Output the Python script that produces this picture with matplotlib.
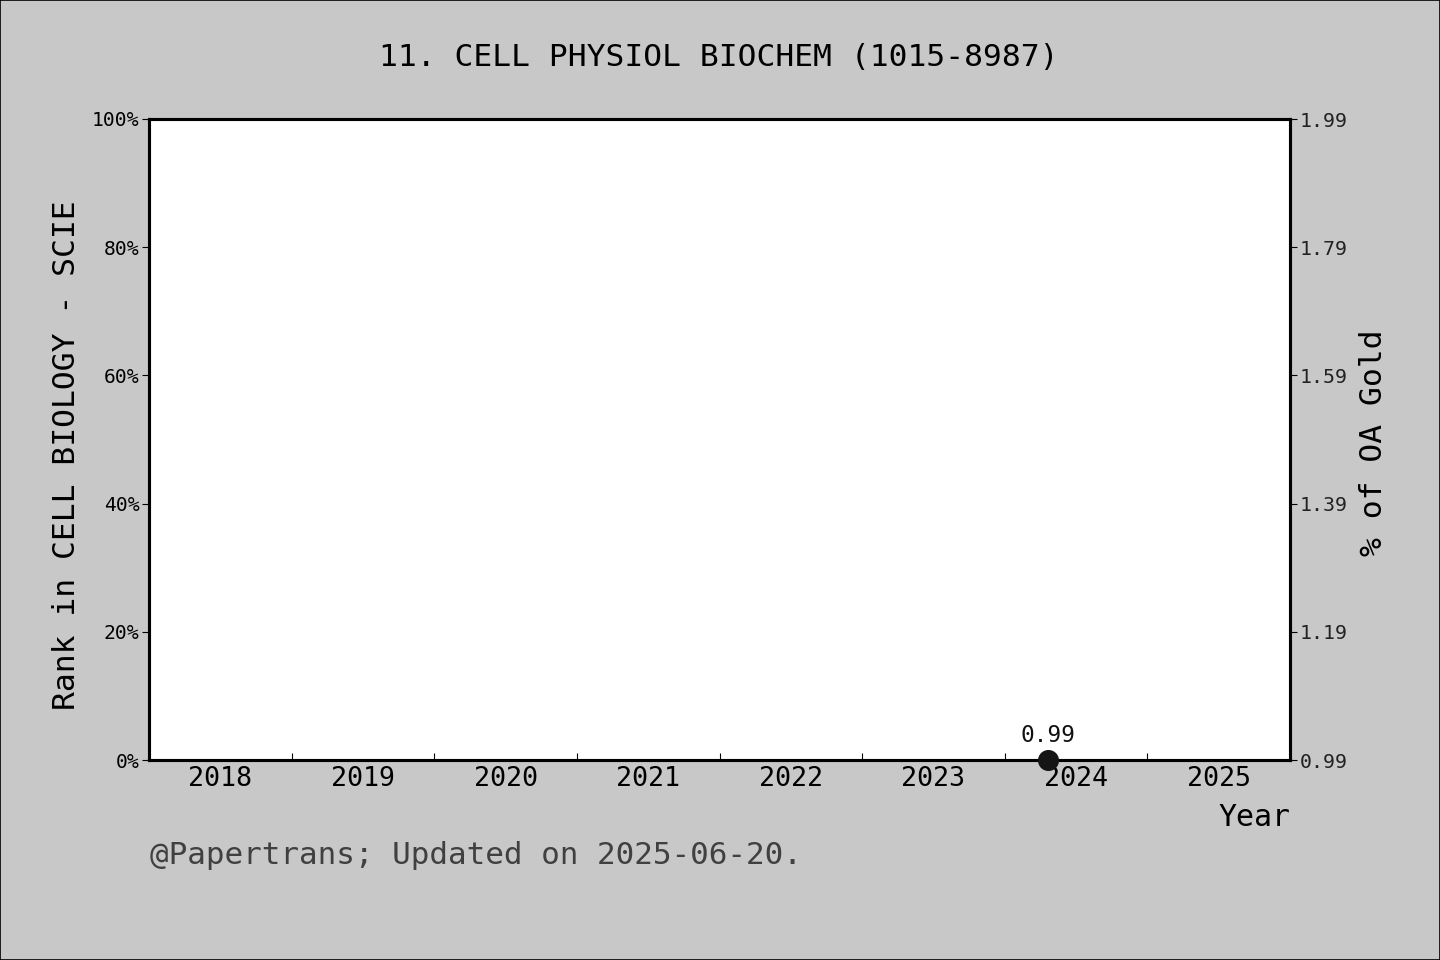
import matplotlib
matplotlib.use("Agg")
import matplotlib.pyplot as plt
from matplotlib import font_manager as fm
from matplotlib.ticker import FixedLocator, FuncFormatter
from matplotlib.patches import Rectangle

# ---- data ----
years = ["2018", "2019", "2020", "2021", "2022", "2023", "2024", "2025"]
oa_years = ["2024"]
oa_values = [0.99]
rank_ticks = [0, 20, 40, 60, 80, 100]
oa_ticks = [0.99, 1.19, 1.39, 1.59, 1.79, 1.99]
title = "11. CELL PHYSIOL BIOCHEM (1015-8987)"
ylabel_left = "Rank in CELL BIOLOGY - SCIE"
ylabel_right = "% of OA Gold"
footer = "@Papertrans; Updated on 2025-06-20."

# ---- font ----
names = {f.name for f in fm.fontManager.ttflist}
if "Noto Sans Mono CJK SC" in names:
    fam = ["Noto Sans Mono CJK SC", "DejaVu Sans Mono"]
    k = 0.602 / 0.5
else:
    fam = ["DejaVu Sans Mono"]
    k = 1.0
plt.rcParams["font.family"] = fam

def fs(px_per_char):
    # DejaVu Sans Mono advance = 0.602 em; convert to pt at dpi 100
    return px_per_char / 0.602 * 0.72 * k

bg = "#c8c8c8"
fig = plt.figure(figsize=(14.4, 9.6), dpi=100, facecolor=bg)
fig.patches.append(Rectangle((0, 0), 1, 1, transform=fig.transFigure,
                             fill=False, edgecolor="black", linewidth=1.2))

L, R, B, T = 149 / 1440, 1290 / 1440, 1 - 760 / 960, 1 - 119 / 960
ax = fig.add_axes([L, B, R - L, T - B])
ax.set_facecolor("white")
ax.set_xlim(-0.5, len(years) - 0.5)
ax.set_ylim(0, 100)
ax.set_xticks(range(len(years)))
ax.set_xticklabels(years, fontsize=fs(16))
ax.xaxis.set_minor_locator(FixedLocator([i + 0.5 for i in range(len(years) - 1)]))
ax.tick_params(axis="x", which="major", length=0, pad=4)
ax.tick_params(axis="x", which="minor", direction="in", length=5, width=0.8)
ax.set_yticks(rank_ticks)
ax.yaxis.set_major_formatter(FuncFormatter(lambda v, p: f"{int(v)}%"))
ax.tick_params(axis="y", direction="out", length=5, width=0.8, pad=2, labelsize=fs(11.8))
for s in ax.spines.values():
    s.set_linewidth(2.2)

ax2 = ax.twinx()
ax2.set_ylim(oa_ticks[0], oa_ticks[-1])
ax2.set_yticks(oa_ticks)
ax2.yaxis.set_major_formatter(FuncFormatter(lambda v, p: f"{v:.2f}"))
ax2.tick_params(axis="y", direction="out", length=5, width=0.8, pad=2, labelsize=fs(12), labelcolor="#222222")
for s in ax2.spines.values():
    s.set_linewidth(2.2)

offset = -0.2
xs = [years.index(y) + offset for y in oa_years]
ax2.scatter(xs, oa_values, s=200, color="#151515", zorder=5, clip_on=False)
for x, v in zip(xs, oa_values):
    ax2.annotate(f"{v:.2f}", (x, v), xytext=(0, 9), textcoords="offset points",
                 ha="center", va="bottom", fontsize=fs(13.7), color="#111111")

fig.text(719 / 1440, 1 - 57 / 960, title, ha="center", va="center", fontsize=fs(18.8))
fig.text(67 / 1440, 1 - 455 / 960, ylabel_left, rotation=90, ha="center", va="center", fontsize=fs(18.9))
fig.text(1373 / 1440, 1 - 443 / 960, ylabel_right, rotation=90, ha="center", va="center", fontsize=fs(18.9))
fig.text(R, 1 - 817 / 960, "Year", ha="right", va="center", fontsize=fs(18))
fig.text(150 / 1440, 1 - 855 / 960, footer, ha="left", va="center", fontsize=fs(18.7), color="#404040")

fig.savefig("out.png", dpi=100, facecolor=bg)
